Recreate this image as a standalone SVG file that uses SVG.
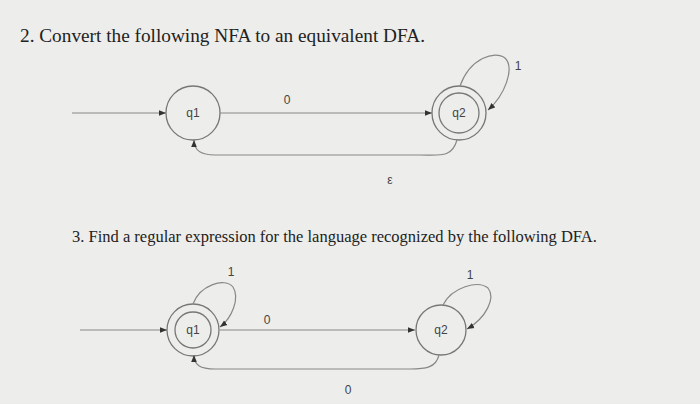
<svg xmlns="http://www.w3.org/2000/svg" width="700" height="404" viewBox="0 0 700 404">
<style>
.t{font-family:"Liberation Serif",serif;font-size:16.5px;fill:#222}
.l{font-family:"Liberation Sans",sans-serif;font-size:12px;fill:#444;text-anchor:middle}
.s{fill:none;stroke:#777;stroke-width:1.3}
.e{fill:none;stroke:#888;stroke-width:1.2;marker-end:url(#a)}
</style>
<defs><marker id="a" viewBox="0 0 10 10" refX="10" refY="5" markerWidth="6" markerHeight="6" orient="auto"><path d="M0,1L10,5L0,9z" fill="#333"/></marker></defs>
<rect width="700" height="404" fill="#ededeb"/>
<text class="t" x="20" y="42" style="font-size:18px" textLength="405" lengthAdjust="spacingAndGlyphs">2. Convert the following NFA to an equivalent DFA.</text>
<text class="t" x="72" y="242">3. Find a regular expression for the language recognized by the following DFA.</text>
<g id="A_q1"><circle class="s" cx="193" cy="113" r="27"/><text class="l" x="193" y="117">q1</text></g>
<g id="A_q2"><circle class="s" cx="459" cy="113" r="27"/><circle class="s" cx="459" cy="113" r="20"/><text class="l" x="459" y="117">q2</text></g>
<g id="B_q1"><circle class="s" cx="193" cy="330" r="26"/><circle class="s" cx="193" cy="330" r="18"/><text class="l" x="193" y="334">q1</text></g>
<g id="B_q2"><circle class="s" cx="441" cy="330" r="25"/><text class="l" x="441" y="334">q2</text></g>
<g id="connectors">
<path class="e" d="M72,113H166"/>
<path class="e" d="M220,113H432"/>
<path class="e" d="M457,140C452,158 440,155 420,155H215C200,155 194,150 194,140"/>
<path class="e" d="M460,86C470,58 495,50 505,58C515,68 505,95 488,110"/>
<path class="e" d="M80,330H167"/>
<path class="e" d="M220,330H415"/>
<path class="e" d="M439,355C436,368 425,369 410,369H215C200,369 194,365 194,355"/>
<path class="e" d="M193,304C200,285 225,277 233,287C240,298 232,318 220,327"/>
<path class="e" d="M443,305C452,287 478,280 488,288C496,298 486,318 467,329"/>
<text class="l" x="287" y="104">0</text>
<text class="l" x="390" y="184">ε</text>
<text class="l" x="518" y="70">1</text>
<text class="l" x="267" y="324">0</text>
<text class="l" x="348" y="394">0</text>
<text class="l" x="231" y="276">1</text>
<text class="l" x="470" y="279">1</text>
</g>
</svg>
